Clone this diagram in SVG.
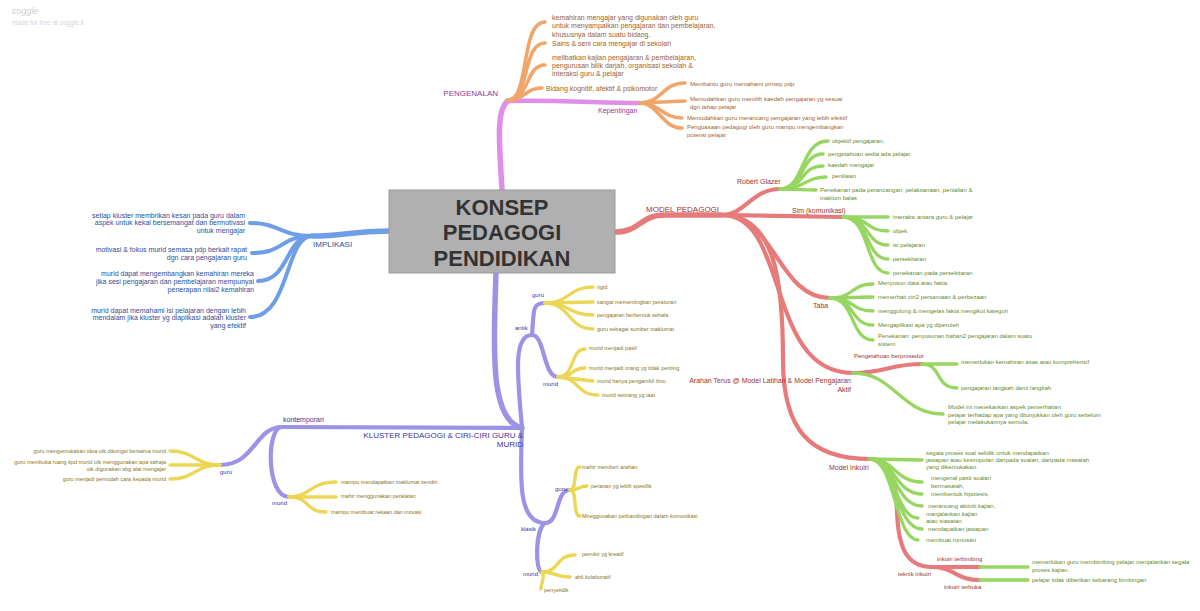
<svg xmlns="http://www.w3.org/2000/svg" width="1200" height="611" viewBox="0 0 1200 611">
<defs>
<style>
text{font-family:"Liberation Sans",Arial,sans-serif;}
.b{fill:none;stroke-linecap:round;stroke-linejoin:round;}
.m{stroke-width:5.5 !important;}
.pk{stroke:#df8fe8;stroke-width:4.5;}
.or{stroke:#f0a66a;stroke-width:3.6;}
.rd{stroke:#e77b7b;stroke-width:4.2;}
.gr{stroke:#97d660;stroke-width:3.3;}
.bl{stroke:#6f9ee8;stroke-width:4;}
.pu{stroke:#9d93e6;stroke-width:4.2;}
.ye{stroke:#ebd655;stroke-width:3.3;}
.t-or{fill:#a0622e;font-size:7px;}
.t-or6{fill:#a0622e;font-size:6px;}
.t-pk{fill:#8e3aa3;}
.t-rd{fill:#9b3434;}
.t-gr{fill:#5f8a2a;font-size:6px;}
.t-bl{fill:#2d4f98;font-size:7px;}
.t-pu{fill:#3d34a0;}
.t-ye{fill:#857626;font-size:5.5px;}
.lab8{font-size:8px;}
.lab7{font-size:7px;}
.lab6{font-size:6px;}
.end{text-anchor:end;}
</style>
</defs>
<rect width="1200" height="611" fill="#ffffff"/>
<g id="logo">
<text x="12" y="14" font-size="9" font-style="italic" fill="#cfcfcf">coggle</text>
<text x="12" y="25" font-size="6.5" fill="#d6d6d6">made for free at coggle.it</text>
</g>
<g id="connectors">
<!-- PENGENALAN -->
<path class="b pk m" d="M502,190 C500,150 495,110 508,101"/>
<path class="b pk" d="M507,101 C560,100 600,103 640,103"/>
<path class="b or" d="M508,100 C530,100 520,22 545,22"/>
<path class="b or" d="M508,100 C530,100 522,43 545,43"/>
<path class="b or" d="M508,100 C530,100 525,65 545,65"/>
<path class="b or" d="M508,100 C525,100 525,88 542,88"/>
<path class="b or" d="M640,103 C662,103 662,83 685,83"/>
<path class="b or" d="M640,103 L685,101"/>
<path class="b or" d="M640,103 C660,103 662,118 682,118"/>
<path class="b or" d="M640,103 C658,103 662,128 682,128"/>
<!-- MODEL PEDAGOGI -->
<path class="b rd m" d="M615,232 C640,232 640,215 665,215 L722,215"/>
<path class="b rd" d="M722,215 C745,215 752,189 780,189"/>
<path class="b rd" d="M722,215 L843,217"/>
<path class="b rd" d="M722,215 C775,215 778,298 830,298"/>
<path class="b rd" d="M722,215 C790,215 765,373 853,373"/>
<path class="b rd" d="M722,215 C775,215 783,280 783,360 C783,430 810,459 870,459"/>
<path class="b rd" d="M870,459 C890,459 896,480 897,510 C898,545 905,567 932,567"/>
<path class="b rd" d="M932,567 L980,567"/>
<path class="b rd" d="M932,567 C955,567 955,580 980,580"/>
<path class="b rd" d="M853,373 C885,373 890,364 922,364"/>
<path class="b gr" d="M980,567 L1028,567"/>
<path class="b gr" d="M980,580 L1028,580"/>
<path class="b gr" d="M922,364 L957,364"/>
<path class="b gr" d="M922,364 C942,364 935,388 957,388"/>
<path class="b gr" d="M853,373 C895,373 900,414 943,414"/>
<path class="b gr" d="M780,189 C805,189 800,141 828,141"/>
<path class="b gr" d="M780,189 C805,189 800,154 823,154"/>
<path class="b gr" d="M780,189 C805,189 800,166 823,166"/>
<path class="b gr" d="M780,189 C805,189 805,177 826,177"/>
<path class="b gr" d="M780,189 C800,189 800,190 816,190"/>
<path class="b gr" d="M843,217 L888,217"/>
<path class="b gr" d="M843,217 C870,217 865,231 888,231"/>
<path class="b gr" d="M843,217 C870,217 865,245 888,245"/>
<path class="b gr" d="M843,217 C870,217 865,259 888,259"/>
<path class="b gr" d="M843,217 C870,217 865,273 888,273"/>
<path class="b gr" d="M830,298 C855,298 850,284 873,284"/>
<path class="b gr" d="M830,298 L873,297"/>
<path class="b gr" d="M830,298 C855,298 850,311 873,311"/>
<path class="b gr" d="M830,298 C855,298 850,325 873,325"/>
<path class="b gr" d="M830,298 C855,298 850,340 873,340"/>
<path class="b gr" d="M870,459 L922,460"/>
<path class="b gr" d="M870,459 C895,459 895,482 922,482"/>
<path class="b gr" d="M870,459 C895,459 895,494 922,494"/>
<path class="b gr" d="M870,459 C895,459 895,506 922,506"/>
<path class="b gr" d="M870,459 C895,459 895,518 918,518"/>
<path class="b gr" d="M870,459 C895,459 895,529 922,529"/>
<path class="b gr" d="M870,459 C895,459 895,540 918,540"/>
<!-- IMPLIKASI -->
<path class="b bl m" d="M389,231 C350,231 345,236 312,236"/>
<path class="b bl" d="M312,236 C280,236 280,223 250,223"/>
<path class="b bl" d="M312,236 C280,236 285,253 252,253"/>
<path class="b bl" d="M312,236 C285,236 290,281 258,281"/>
<path class="b bl" d="M312,236 C285,236 290,317 250,317"/>
<!-- KLUSTER -->
<path class="b pu m" d="M496,273 C494,340 488,420 522,428"/>
<path class="b pu" d="M522,428 L282,427"/>
<path class="b pu" d="M522,428 C518,380 512,335 532,335"/>
<path class="b pu" d="M522,428 C520,480 518,523 545,523"/>
<path class="b pu" d="M532,335 C534,310 532,303 545,303"/>
<path class="b pu" d="M532,335 C545,335 543,377 558,377"/>
<path class="b pu" d="M545,523 C560,523 555,490 570,490"/>
<path class="b pu" d="M545,523 C535,530 535,572 542,572"/>
<path class="b pu" d="M282,427 C255,427 255,465 220,465"/>
<path class="b pu" d="M282,427 C266,427 266,497 289,497"/>
<path class="b ye" d="M545,303 C570,303 568,287 593,287"/>
<path class="b ye" d="M545,303 L593,302"/>
<path class="b ye" d="M545,303 C570,303 568,315 593,315"/>
<path class="b ye" d="M545,303 C570,303 568,329 593,329"/>
<path class="b ye" d="M558,377 C575,377 570,349 585,349"/>
<path class="b ye" d="M558,377 C575,377 570,368 585,368"/>
<path class="b ye" d="M558,377 L593,381"/>
<path class="b ye" d="M558,377 C580,377 575,395 598,395"/>
<path class="b ye" d="M570,490 C578,490 572,467 580,467"/>
<path class="b ye" d="M570,490 C580,490 578,486 587,486"/>
<path class="b ye" d="M570,490 C578,490 572,516 580,516"/>
<path class="b ye" d="M542,572 C560,572 555,555 575,555"/>
<path class="b ye" d="M542,572 C555,572 555,577 570,577"/>
<path class="b ye" d="M542,572 C546,576 540,586 541,589"/>
<path class="b ye" d="M220,465 C195,465 195,451 170,451"/>
<path class="b ye" d="M220,465 L170,465"/>
<path class="b ye" d="M220,465 C195,465 195,479 170,479"/>
<path class="b ye" d="M289,497 C310,497 310,482 336,482"/>
<path class="b ye" d="M289,497 L336,497"/>
<path class="b ye" d="M289,497 C310,497 305,512 326,512"/>
</g>
<g id="center">
<rect x="389" y="190" width="226" height="83" fill="#b0b0b0" stroke="#9a9a9a" stroke-width="1"/>
<text x="502" y="215" font-size="22" font-weight="bold" fill="#333333" text-anchor="middle">KONSEP</text>
<text x="502" y="240" font-size="22" font-weight="bold" fill="#333333" text-anchor="middle">PEDAGOGI</text>
<text x="502" y="266" font-size="22" font-weight="bold" fill="#333333" text-anchor="middle">PENDIDIKAN</text>
</g>
<g id="pengenalan">
<text class="t-pk lab8 end" x="498" y="96">PENGENALAN</text>
<text class="t-or" x="552" y="19.5"><tspan x="552">kemahiran mengajar yang digunakan oleh guru</tspan><tspan x="552" dy="8.5">untuk menyampaikan pengajaran dan pembelajaran,</tspan><tspan x="552" dy="8.5">khususnya dalam suatu bidang.</tspan></text>
<text class="t-or" x="552" y="45.5">Sains &amp; seni cara mengajar di sekolah</text>
<text class="t-or" x="552" y="59.5"><tspan x="552">melibatkan kajian pengajaran &amp; pembelajaran,</tspan><tspan x="552" dy="8">pengurusan bilik darjah, organisasi sekolah &amp;</tspan><tspan x="552" dy="8">interaksi guru &amp; pelajar</tspan></text>
<text class="t-or" x="546" y="90.5">Bidang kognitif, afektif &amp; psikomotor</text>
</g>
<g id="kepentingan">
<text class="t-pk lab7" x="598" y="112.5">Kepentingan</text>
<text class="t-or6" x="690" y="86">Membantu guru memahami prinsip pdp</text>
<text class="t-or6" x="690" y="101"><tspan x="690">Memudahkan guru memilih kaedah pengajaran yg sesuai</tspan><tspan x="690" dy="7.5">dgn tahap pelajar</tspan></text>
<text class="t-or6" x="687" y="120">Memudahkan guru merancang pengajaran yang lebih efektif</text>
<text class="t-or6" x="687" y="129"><tspan x="687">Penguasaan pedagogi oleh guru mampu mengembangkan</tspan><tspan x="687" dy="7.5">potensi pelajar</tspan></text>
</g>
<g id="model-pedagogi">
<text class="t-rd lab8" x="646" y="212">MODEL PEDAGOGI</text>
</g>
<g id="robert-glazer">
<text class="t-rd lab7" x="737" y="183.5">Robert Glazer</text>
<text class="t-gr" x="832" y="143">objektif pengajaran,</text>
<text class="t-gr" x="828" y="156">pengetahuan sedia ada pelajar</text>
<text class="t-gr" x="828" y="167">kaedah mengajar</text>
<text class="t-gr" x="832" y="178">penilaian</text>
<text class="t-gr" x="820" y="192"><tspan x="820">Penekanan pada perancangan, pelaksanaan, penialian &amp;</tspan><tspan x="820" dy="7.5">maklum balas</tspan></text>
</g>
<g id="sim">
<text class="t-rd lab7" x="792" y="212.5">Sim (komunikasi)</text>
<text class="t-gr" x="893" y="219">interaksi antara guru &amp; pelajar</text>
<text class="t-gr" x="893" y="233">objek</text>
<text class="t-gr" x="893" y="247">isi pelajaran</text>
<text class="t-gr" x="893" y="261">persekitaran</text>
<text class="t-gr" x="893" y="275">penekanan pada persekitaran</text>
</g>
<g id="taba">
<text class="t-rd lab7" x="813" y="307.5">Taba</text>
<text class="t-gr" x="878" y="285">Menyusun data atau fakta</text>
<text class="t-gr" x="878" y="299">memerhati ciri2 persamaan &amp; perbezaan</text>
<text class="t-gr" x="878" y="313">menggolong &amp; mengelas fakta mengikut kategori</text>
<text class="t-gr" x="878" y="327">Mengaplikasi apa yg diperoleh</text>
<text class="t-gr" x="878" y="338"><tspan x="878">Penekanan: penyusunan bahan2 pengajaran dalam suatu</tspan><tspan x="878" dy="7.5">sistem</tspan></text>
</g>
<g id="arahan-terus">
<text class="t-rd lab7 end" x="851" y="382.5"><tspan x="851">Arahan Terus @ Model Latihan &amp; Model Pengajaran</tspan><tspan x="851" dy="9">Aktif</tspan></text>
<text class="t-rd lab6" x="854" y="358">Pengetahuan berprosedur</text>
<text class="t-gr" x="961" y="364">memerlukan kemahiran asas atau komprehensif</text>
<text class="t-gr" x="961" y="390">pengajaran langkah demi langkah</text>
<text class="t-gr" x="948" y="409"><tspan x="948">Model ini menekankan aspek pemerhatian</tspan><tspan x="948" dy="7.5">pelajar terhadap apa yang ditunjukkan oleh guru sebelum</tspan><tspan x="948" dy="7.5">pelajar melakukannya semula.</tspan></text>
</g>
<g id="model-inkuiri">
<text class="t-rd lab7" x="829" y="469.5">Model Inkuiri</text>
<text class="t-gr" x="926" y="455"><tspan x="926">segala proses soal selidik untuk mendapatkan</tspan><tspan x="926" dy="7.2">jawapan atau kesimpulan daripada soalan, daripada masalah</tspan><tspan x="926" dy="7.2">yang dikemukakan.</tspan></text>
<text class="t-gr" x="931" y="480"><tspan x="931">mengenal pasti soalan</tspan><tspan x="931" dy="7.5">bermasalah,</tspan></text>
<text class="t-gr" x="931" y="496">membentuk hipotesis,</text>
<text class="t-gr" x="928" y="508">merancang aktiviti kajian,</text>
<text class="t-gr" x="926" y="516"><tspan x="926">manjalankan kajian</tspan><tspan x="926" dy="7.2">atau siasatan</tspan></text>
<text class="t-gr" x="928" y="531">mendapatkan jawapan</text>
<text class="t-gr" x="926" y="542">membuat rumusan</text>
</g>
<g id="teknik-inkuiri">
<text class="t-rd lab6" x="898" y="576">teknik inkuiri</text>
<text class="t-rd lab6" x="937" y="561">inkuiri terbimbing</text>
<text class="t-rd lab6" x="944" y="589">inkuiri terbuka</text>
<text class="t-gr" x="1032" y="564"><tspan x="1032">memerlukan guru membimbing pelajar menjalankan segala</tspan><tspan x="1032" dy="7.5">proses kajian.</tspan></text>
<text class="t-gr" x="1032" y="582">pelajar tidak diberikan sebarang bimbingan</text>
</g>
<g id="implikasi">
<text class="t-bl lab8" x="313" y="247" style="font-size:8px">IMPLIKASI</text>
<text class="t-bl end" x="245" y="217.5"><tspan x="245">setiap kluster membrikan kesan pada guru dalam</tspan><tspan x="245" dy="7.8">aspek untuk kekal bersemangat dan bermotivasi</tspan><tspan x="245" dy="7.8">untuk mengajar</tspan></text>
<text class="t-bl end" x="247" y="251.5"><tspan x="247">motivasi &amp; fokus murid semasa pdp berkait rapat</tspan><tspan x="247" dy="8">dgn cara pengajaran guru</tspan></text>
<text class="t-bl end" x="254" y="275.5"><tspan x="254">murid dapat mengembangkan kemahiran mereka</tspan><tspan x="254" dy="8.3">jika sesi pengajaran dan pembelajaran mempunyai</tspan><tspan x="254" dy="8.3">penerapan nilai2 kemahiran</tspan></text>
<text class="t-bl end" x="246" y="312.5"><tspan x="246">murid dapat memahami isi pelajaran dengan lebih</tspan><tspan x="246" dy="7.6">mendalam jika kluster yg diaplikasi adalah kluster</tspan><tspan x="246" dy="7.6">yang efektif</tspan></text>
</g>
<g id="kluster">
<text class="t-pu lab8 end" x="523" y="438"><tspan x="523">KLUSTER PEDAGOGI &amp; CIRI-CIRI GURU &amp;</tspan><tspan x="523" dy="9">MURID</tspan></text>
</g>
<g id="antik">
<text class="t-pu lab6" x="515" y="330">antik</text>
<text class="t-pu lab6" x="532" y="297">guru</text>
<text class="t-pu lab6" x="543" y="386">murid</text>
<text class="t-ye" x="597" y="289">rigid</text>
<text class="t-ye" x="597" y="304">sangat mementingkan peraturan</text>
<text class="t-ye" x="597" y="317">pengajaran berbentuk sehala</text>
<text class="t-ye" x="597" y="331">guru sebagai sumber maklumat</text>
<text class="t-ye" x="589" y="350">murid menjadi pasif</text>
<text class="t-ye" x="589" y="370">murid menjadi orang yg tidak penting</text>
<text class="t-ye" x="597" y="383">murid hanya pengambil ilmu</text>
<text class="t-ye" x="602" y="397">murid seorang yg taat</text>
</g>
<g id="klasik">
<text class="t-pu lab6" x="521" y="531">klasik</text>
<text class="t-pu lab6" x="555" y="491">guru</text>
<text class="t-pu lab6" x="523" y="576">murid</text>
<text class="t-ye" x="582" y="469">mahir memberi arahan</text>
<text class="t-ye" x="591" y="488">peranan yg lebih spesifik</text>
<text class="t-ye" x="582" y="518">Mneggunakan perbandingan dalam komunikasi</text>
<text class="t-ye" x="582" y="556">pemikir yg kreatif</text>
<text class="t-ye" x="575" y="579">ahli kolaboratif</text>
<text class="t-ye" x="544" y="592">penyelidik</text>
</g>
<g id="kontemporari">
<text class="t-pu lab7" x="283" y="421.5">kontemporari</text>
<text class="t-pu lab6" x="220" y="474">guru</text>
<text class="t-pu lab6" x="272" y="505">murid</text>
<text class="t-ye end" x="166" y="453">guru mengemukakan idea utk dikongsi bersama murid</text>
<text class="t-ye end" x="166" y="464"><tspan x="166">guru membuka ruang kpd murid utk menggunakan apa sahaja</tspan><tspan x="166" dy="6.5">utk digunakan sbg alat mengajar</tspan></text>
<text class="t-ye end" x="166" y="481">guru menjadi pemudah cara kepada murid</text>
<text class="t-ye" x="341" y="484">mampu mendapatkan maklumat sendiri</text>
<text class="t-ye" x="341" y="498">mahir menggunakan peralatan</text>
<text class="t-ye" x="331" y="514">mampu membuat rekaan dan inovasi</text>
</g>
</svg>
